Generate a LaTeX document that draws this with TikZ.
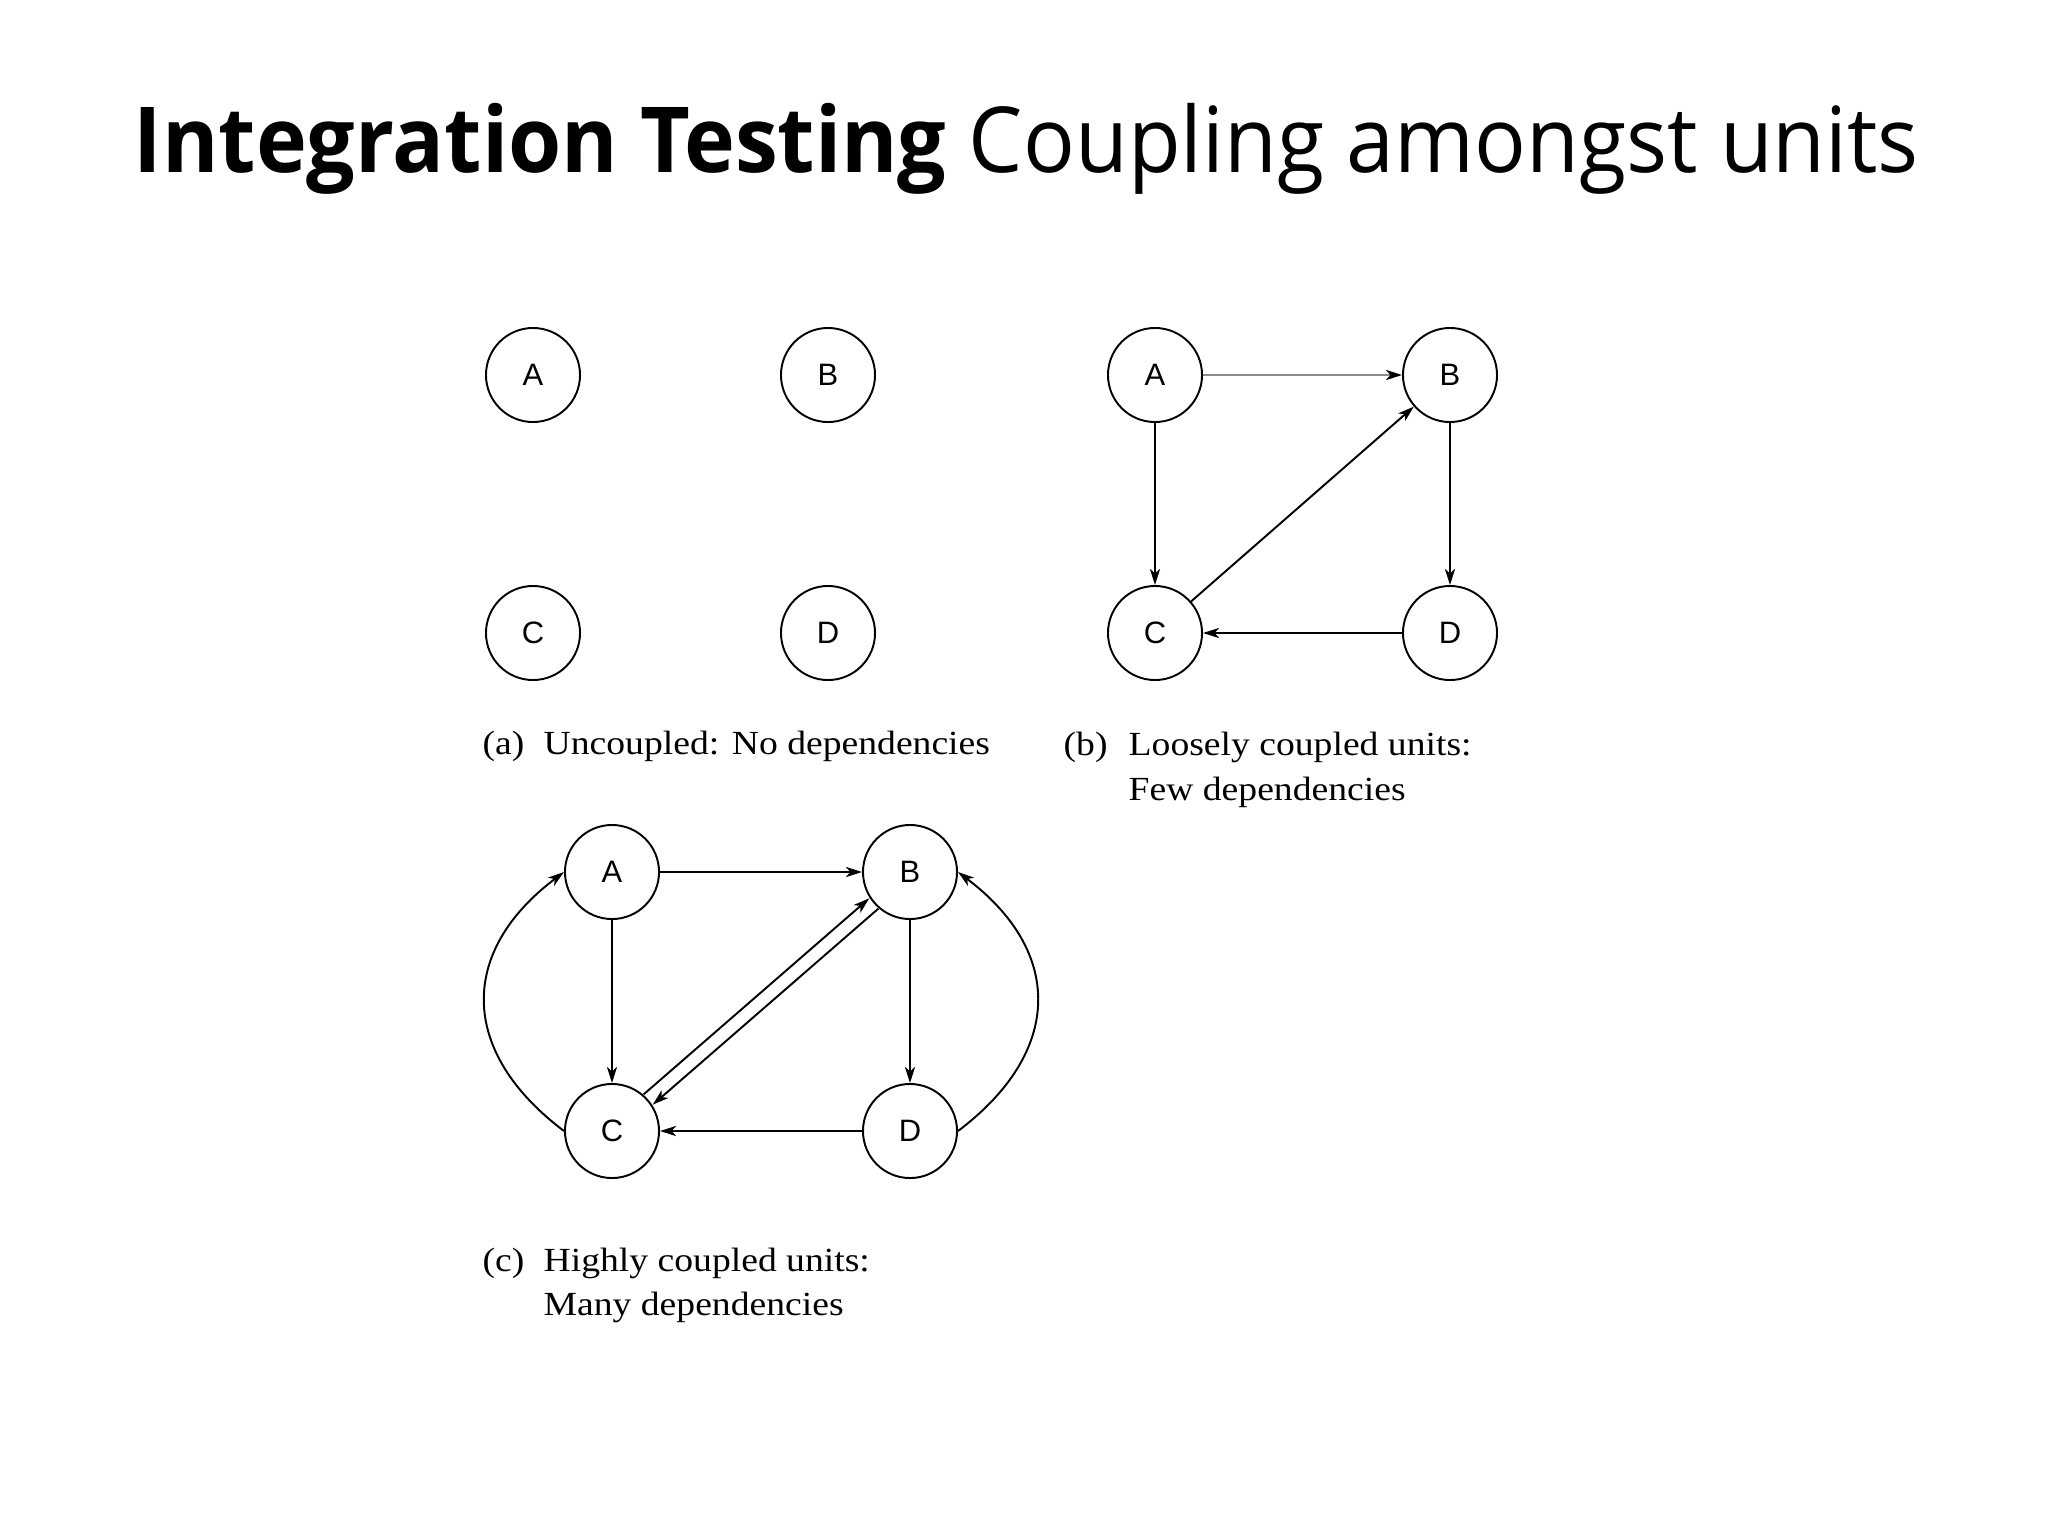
\documentclass[tikz,border=0pt]{standalone}
\usepackage{fontspec}
\usepackage{graphicx}
\usetikzlibrary{arrows.meta}
\setmainfont{Liberation Serif}
\newfontfamily\titlefont{Open Sans}
\newfontfamily\capfont[FakeStretch=1.115]{Liberation Serif}
\newfontfamily\unitfont{Liberation Sans}

\tikzset{
  unit/.style={circle, draw, line width=0.55pt, minimum size=0.94cm, inner sep=0pt,
    font=\unitfont\fontsize{8.8}{10}\selectfont},
  dep/.style={line width=0.55pt, -{Stealth[length=4.6pt,width=2.9pt,inset=1.3pt,color=black]}},
  captext/.style={anchor=base west, inner sep=0pt, font=\capfont\fontsize{9.6}{11}\selectfont},
  titletext/.style={anchor=base west, inner sep=0pt, font=\titlefont\fontsize{25.9}{30}\selectfont},
}

\begin{document}
\begin{tikzpicture}[x=0.01cm,y=-0.01cm]
  \fill[white] (0,0) rectangle (2048,1536);
  \useasboundingbox (0,0) rectangle (2048,1536);

  % title
  \node[titletext] (title) at (133,172)
    {\resizebox{17.84cm}{\height}{\textbf{Integration Testing} Coupling amongst units}};

  % (a) uncoupled
  \node[unit] (aA) at (533,375) {A};
  \node[unit] (aB) at (828,375) {B};
  \node[unit] (aC) at (533,633) {C};
  \node[unit] (aD) at (828,633) {D};
  \node[captext] (acapl) at (482,754) {(a)};
  \node[captext] (acap1) at (543,754) {Uncoupled: No dependencies};

  % (b) loosely coupled
  \node[unit] (bA) at (1155,375) {A};
  \node[unit] (bB) at (1450,375) {B};
  \node[unit] (bC) at (1155,633) {C};
  \node[unit] (bD) at (1450,633) {D};
  \draw[dep, draw=black!45] (bA) -- (bB);
  \draw[dep] (bA) -- (bC);
  \draw[dep] (bB) -- (bD);
  \draw[dep] (bD) -- (bC);
  \draw[dep] (bC) -- (bB);
  \node[captext] (bcapl) at (1063,755) {(b)};
  \node[captext] (bcap1) at (1128,755) {Loosely coupled units:};
  \node[captext] (bcap2) at (1128,800) {Few dependencies};

  % (c) highly coupled
  \node[unit] (cA) at (612,872) {A};
  \node[unit] (cB) at (910,872) {B};
  \node[unit] (cC) at (612,1131) {C};
  \node[unit] (cD) at (910,1131) {D};
  \draw[dep] (cA) -- (cB);
  \draw[dep] (cA) -- (cC);
  \draw[dep] (cB) -- (cD);
  \draw[dep] (cD) -- (cC);
  \draw[dep, transform canvas={shift={(-0.045cm,0.052cm)}}] (cC) -- (cB);
  \draw[dep, transform canvas={shift={(0.045cm,-0.052cm)}}] (cB) -- (cC);
  \draw[dep] (cC.west) to[out=143, in=217, distance=1.32cm] (cA.west);
  \draw[dep] (cD.east) to[out=37, in=-37, distance=1.32cm] (cB.east);
  \node[captext] (ccapl) at (482,1271) {(c)};
  \node[captext] (ccap1) at (543,1271) {Highly coupled units:};
  \node[captext] (ccap2) at (543,1315) {Many dependencies};
\end{tikzpicture}
\end{document}
